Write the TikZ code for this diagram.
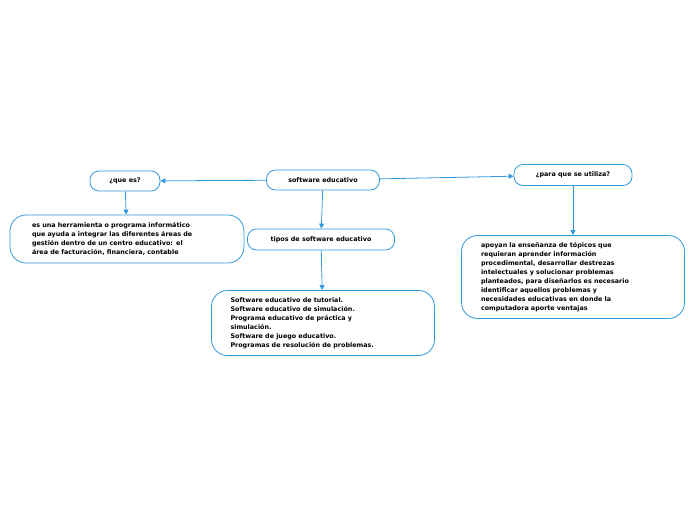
\documentclass[tikz,border=0pt]{standalone}
\usepackage{fontspec}
\setmainfont{DejaVu Sans}
\usetikzlibrary{arrows.meta}
\definecolor{mapblue}{HTML}{3399DD}
\begin{document}
\begin{tikzpicture}[
    x=1pt, y=-1pt,
    topic/.style={rectangle, draw=mapblue, fill=white, rounded corners=9pt, thick,
        font=\fontsize{6.4}{9}\selectfont\bfseries, inner sep=0pt},
    note/.style={topic, rounded corners=16pt, align=left},
    link/.style={-{Triangle[length=5pt,width=5pt]}, draw=mapblue, thick}
]
    \useasboundingbox (0,0) rectangle (696,520);

    % Topics
    \node[topic, minimum width=113, minimum height=20] (root) at (323,180) {software educativo};
    \node[topic, minimum width=70, minimum height=20] (quees) at (125,181) {¿que es?};
    \node[topic, minimum width=147, minimum height=21] (tipos) at (321,239.5) {tipos de software educativo};
    \node[topic, minimum width=118, minimum height=21] (para) at (573,175) {¿para que se utiliza?};

    % Notes
    \node[note, minimum width=234, minimum height=48, text width=190] (def) at (127,239)
        {es una herramienta o programa informático\\que ayuda a integrar las diferentes áreas de\\gestión dentro de un centro educativo: el\\área de facturación, financiera, contable};
    \node[note, minimum width=223, minimum height=65, text width=185] (lista) at (323,323)
        {Software educativo de tutorial.\\Software educativo de simulación.\\Programa educativo de práctica y\\simulación.\\Software de juego educativo.\\Programas de resolución de problemas.};
    \node[note, minimum width=223, minimum height=83, text width=184] (apoyan) at (573,277)
        {apoyan la enseñanza de tópicos que\\requieran aprender información\\procedimental, desarrollar destrezas\\intelectuales y solucionar problemas\\planteados, para diseñarlos es necesario\\identificar aquellos problemas y\\necesidades educativas en donde la\\computadora aporte ventajas};

    % Links
    \draw[link] (root) -- (quees);
    \draw[link] (root) -- (para);
    \draw[link] (root) -- (tipos);
    \draw[link] (quees) -- (def);
    \draw[link] (tipos) -- (lista);
    \draw[link] (para) -- (apoyan);
\end{tikzpicture}
\end{document}
